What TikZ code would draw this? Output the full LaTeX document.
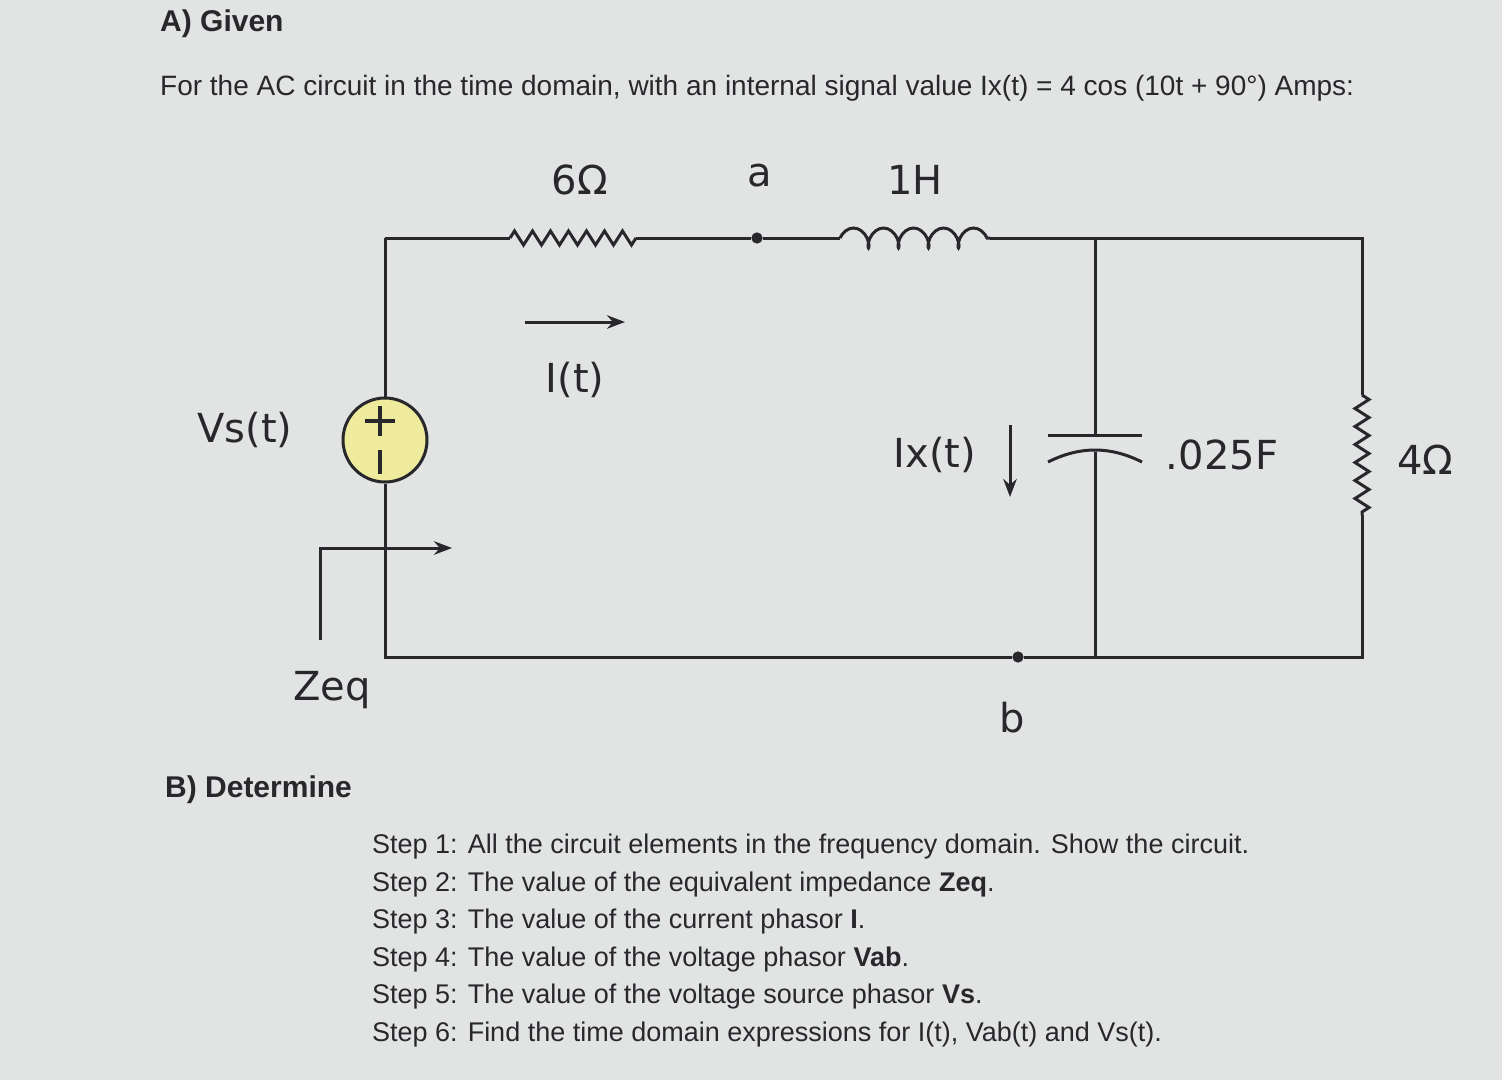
\documentclass[tikz,border=0pt]{standalone}
\usepackage{fontspec}
\setmainfont{Liberation Sans}
\newfontfamily\cktfont{DejaVu Sans}
\usetikzlibrary{positioning,decorations.pathmorphing,arrows.meta}
\definecolor{screen}{RGB}{226,228,228}
\definecolor{ink}{RGB}{40,40,44}
\tikzset{
  wire/.style={draw=ink, line width=3pt},
  lbl/.style={font=\cktfont\fontsize{40}{42}\selectfont, text=ink},
  txt/.style={font=\fontsize{27}{30}\selectfont, text=ink, anchor=west, inner sep=0pt},
  hdr/.style={txt, font=\bfseries\fontsize{30}{32}\selectfont},
  dot/.style={circle, fill=ink, inner sep=4pt},
  zig/.style={decorate, decoration={zigzag, segment length=18, amplitude=7}},
  coil/.style={decorate, decoration={coil, aspect=0.6, segment length=30, amplitude=10}}
}
\begin{document}
\begin{tikzpicture}[x=1pt,y=-1pt]
\fill[screen] (0,0) rectangle (1502,1080);
\useasboundingbox (0,0) rectangle (1502,1080);

% text
\node[hdr] (given) at (160,24) {A) Given};
\node[txt, font=\fontsize{28}{30}\selectfont] (intro) at (160,88) {For the AC circuit in the time domain, with an internal signal value Ix(t) = 4 cos (10t + 90\textdegree) Amps:};
\node[hdr] (det) at (165,790) {B) Determine};
\node[txt] (s1) at (372,847) {Step 1: All the circuit elements in the frequency domain. Show the circuit.};
\node[txt] (s2) at (372,885) {Step 2: The value of the equivalent impedance \textbf{Zeq}.};
\node[txt] (s3) at (372,922) {Step 3: The value of the current phasor \textbf{I}.};
\node[txt] (s4) at (372,960) {Step 4: The value of the voltage phasor \textbf{Vab}.};
\node[txt] (s5) at (372,997) {Step 5: The value of the voltage source phasor \textbf{Vs}.};
\node[txt] (s6) at (372,1035) {Step 6: Find the time domain expressions for I(t), Vab(t) and Vs(t).};

% circuit points
\coordinate (tl) at (385,238);
\coordinate (r6a) at (510,238);
\coordinate (r6b) at (636,238);
\node[dot] (a) at (757,238) {};
\coordinate (l1a) at (840,238);
\coordinate (l1b) at (990,238);
\coordinate (ct) at (1095,238);
\coordinate (tr) at (1362,238);
\coordinate (r4a) at (1362,395);
\coordinate (r4b) at (1362,515);
\coordinate (br) at (1362,657);
\coordinate (cb) at (1095,657);
\node[dot] (b) at (1018,657) {};
\coordinate (bl) at (385,657);
\node[circle, draw=ink, line width=3pt, fill=yellow!35!screen, minimum size=84] (vs) at (385,440) {};

\draw[wire] (tl) -- (r6a);
\draw[wire, zig] (r6a) -- (r6b);
\draw[wire] (r6b) -- (a) -- (l1a);
\draw[wire, coil] (l1a) -- (l1b);
\draw[wire] (l1b) -- (tr) -- (r4a);
\draw[wire, zig] (r4a) -- (r4b);
\draw[wire] (r4b) -- (br) -- (b) -- (bl) -- (vs.south);
\draw[wire] (vs.north) -- (tl);
\draw[ink, line width=3.4pt] (380,406) -- (380,436) (365,421) -- (395,421) (380,450) -- (380,474);

% capacitor
\coordinate (p1) at (1095,435);
\coordinate (p2) at (1095,452);
\draw[wire] (ct) -- (p1);
\draw[wire] (1048,435) -- (1142,435);
\draw[wire] (1048,462) .. controls (1080,446) and (1110,446) .. (1142,462);
\draw[wire] (p2) -- (cb);

% labels
\node[lbl] (l6) at (580,180) {6Ω};
\node[lbl] (la) at (760,176) {a};
\node[lbl] (lh) at (915,180) {1H};
\node[lbl] (lvs) at (245,430) {Vs(t)};
\node[lbl] (lc) at (1222,455) {.025F};
\node[lbl] (l4) at (1425,460) {4Ω};
\node[lbl] (lix) at (935,455) {Ix(t)};
\node[lbl] (li) at (575,380) {I(t)};
\node[lbl] (lz) at (332,690) {Zeq};
\node[lbl] (lb) at (1012,718) {b};

% arrows
\coordinate (ia) at (525,322);
\coordinate (ib) at (625,322);
\draw[ink, line width=3pt, -{Stealth[length=18pt]}] (ia) -- (ib);
\coordinate (xa) at (1010,425);
\coordinate (xb) at (1010,497);
\draw[ink, line width=3pt, -{Stealth[length=18pt]}] (xa) -- (xb);
\coordinate (za) at (320,640);
\coordinate (zb) at (320,548);
\coordinate (zc) at (452,548);
\draw[ink, line width=3pt, -{Stealth[length=18pt]}] (za) -- (zb) -- (zc);
\end{tikzpicture}
\end{document}
